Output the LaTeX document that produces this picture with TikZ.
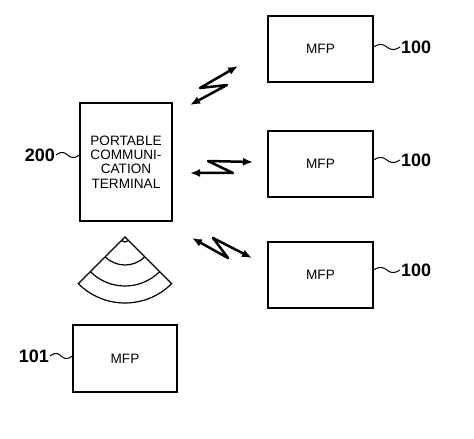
\documentclass[tikz,border=0pt]{standalone}
\usepackage{fontspec}
\setmainfont{Liberation Sans}
\usetikzlibrary{arrows.meta}

\begin{document}
\begin{tikzpicture}[x=1pt, y=1pt]
        \tikzstyle{box}=[draw, line width=1.3pt, inner sep=2pt, align=center, font=\fontsize{13.6}{14.2}\selectfont]
        \tikzstyle{mfp}=[box, minimum width=105pt, minimum height=66pt]
        \tikzstyle{refnum}=[inner sep=1pt, font=\fontsize{18}{18}\selectfont\bfseries]
        \tikzstyle{tilde}=[line width=1pt]
        \tikzstyle{bolt}=[line width=2.5pt, line join=round, {Latex[length=10pt,width=8pt]}-{Latex[length=10pt,width=8pt]}]
        \tikzstyle{wave}=[line width=1.2pt]

        \useasboundingbox (0,0) rectangle (474,439);

% the three MFPs on the right
        \node[mfp] (mfpA) at (320.5,390) {MFP};
        \node[mfp] (mfpB) at (320.5,275) {MFP};
        \node[mfp] (mfpC) at (320.5,164) {MFP};

% the terminal and the MFP below it
        \node[box, minimum width=92pt, minimum height=118pt] (term) at (126,277) {PORTABLE\\COMMUNI-\\CATION\\TERMINAL};
        \node[box, minimum width=104pt, minimum height=67pt] (mfpD) at (125,80.5) {MFP};

% reference numerals
        \node[refnum, anchor=west] (numA) at (400,392) {100};
        \node[refnum, anchor=west] (numB) at (400,279) {100};
        \node[refnum, anchor=west] (numC) at (400,169) {100};
        \node[refnum, anchor=east] (numT) at (56,284) {200};
        \node[refnum, anchor=east] (numD) at (50,83) {101};

        \draw[tilde] (numA.west -| mfpA.east) .. controls +(14,9) and +(-14,-9) .. (numA.west);
        \draw[tilde] (numB.west -| mfpB.east) .. controls +(14,9) and +(-14,-9) .. (numB.west);
        \draw[tilde] (numC.west -| mfpC.east) .. controls +(14,9) and +(-14,-9) .. (numC.west);
        \draw[tilde] (numT.east) .. controls +(12,9) and +(-12,-9) .. (numT.east -| term.west);
        \draw[tilde] (numD.east) .. controls +(12,9) and +(-12,-9) .. (numD.east -| mfpD.west);

% radio links
        \coordinate (boltA1) at (190,334);
        \coordinate (boltA2) at (227,354);
        \coordinate (boltA3) at (200,351);
        \coordinate (boltA4) at (238,373);
        \draw[bolt] (boltA1) -- (boltA2) -- (boltA3) -- (boltA4);

        \coordinate (boltB1) at (190,266);
        \coordinate (boltB2) at (233,266);
        \coordinate (boltB3) at (208,278);
        \coordinate (boltB4) at (253,277);
        \draw[bolt] (boltB1) -- (boltB2) -- (boltB3) -- (boltB4);

        \coordinate (boltC1) at (192,201);
        \coordinate (boltC2) at (228,181);
        \coordinate (boltC3) at (213,201);
        \coordinate (boltC4) at (252,181);
        \draw[bolt] (boltC1) -- (boltC2) -- (boltC3) -- (boltC4);

% near field signal
        \coordinate (apex) at (125,202);
        \draw[wave] (apex) -- ++(225:66) arc[start angle=225, end angle=315, radius=66] -- cycle;
        \foreach \r in {5,28,49} {
                \draw[wave] (apex) ++(225:\r) arc[start angle=225, end angle=315, radius=\r];
        }

    \end{tikzpicture}
\end{document}
